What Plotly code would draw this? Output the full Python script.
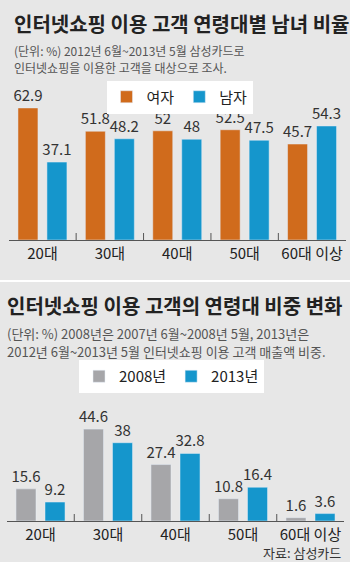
import plotly.graph_objects as go

ages = ["20대", "30대", "40대", "50대", "60대 이상"]
female = [62.9, 51.8, 52, 52.5, 45.7]
male = [37.1, 48.2, 48, 47.5, 54.3]
share_2008 = [15.6, 44.6, 27.4, 10.8, 1.6]
share_2013 = [9.2, 38, 32.8, 16.4, 3.6]

FONT = "Noto Sans CJK KR"
ORANGE = "#d06b1c"
BLUE = "#1596cc"
GRAY = "#a6a6a9"
BG = "#e7e7e7"
TXT = "#333333"

def lbl(v):
    return [f"{x:g}" for x in v]

def bar(x, y, name, color, xa, ya, lg):
    return go.Bar(x=x, y=y, name=name, marker_color=color,
                  text=lbl(y), textposition="outside", cliponaxis=False,
                  constraintext="none",
                  textfont=dict(size=15, color=TXT, family=FONT),
                  xaxis=xa, yaxis=ya, legend=lg)

fig = go.Figure()
fig.add_trace(bar(ages, female, "여자", ORANGE, "x", "y", "legend"))
fig.add_trace(bar(ages, male, "남자", BLUE, "x", "y", "legend"))
fig.add_trace(bar(ages, share_2008, "2008년", GRAY, "x2", "y2", "legend2"))
fig.add_trace(bar(ages, share_2013, "2013년", BLUE, "x2", "y2", "legend2"))

H = 562.0
W = 350.0
def py(px):
    return 1 - px / H

xcommon = dict(type="category", showgrid=False, zeroline=False, showline=True,
               linecolor="#555555", linewidth=1, ticks="",
               tickfont=dict(size=15, color="#222222", family=FONT),
               fixedrange=True)
ycommon = dict(visible=False, showgrid=False, zeroline=False, fixedrange=True)

layout = dict(
    width=350, height=562,
    margin=dict(l=0, r=0, t=0, b=0),
    paper_bgcolor=BG, plot_bgcolor=BG,
    barmode="group", bargap=0.14, bargroupgap=0.31,
    font=dict(family=FONT, color=TXT),
    xaxis=dict(domain=[8.75 / W, 345.75 / W], anchor="y", range=[-0.5, 4.5], **xcommon),
    yaxis=dict(domain=[py(240), py(93)], anchor="x", range=[0, 70], **ycommon),
    xaxis2=dict(domain=[6.75 / W, 344.25 / W], anchor="y2", range=[-0.5, 4.5], **xcommon),
    yaxis2=dict(domain=[py(521), py(418)], anchor="x2", range=[0, 50], **ycommon),
    legend=dict(orientation="h", x=179.5 / W, xanchor="center", y=py(97), yanchor="middle",
                bgcolor="white", font=dict(size=15, color="#222222", family=FONT),
                itemclick=False, itemdoubleclick=False),
    legend2=dict(orientation="h", x=171.5 / W, xanchor="center", y=py(376.5), yanchor="middle",
                 bgcolor="white", font=dict(size=15, color="#222222", family=FONT),
                 itemclick=False, itemdoubleclick=False),
)
fig.update_layout(**layout)

shapes = []
# separator line
shapes.append(dict(type="line", xref="paper", yref="paper", x0=0, x1=1, y0=py(281), y1=py(281),
                   line=dict(color="white", width=2)))
# ticks at category boundaries
for i in range(len(ages) - 1):
    shapes.append(dict(type="line", xref="x", yref="y domain", x0=i + 0.5, x1=i + 0.5,
                       y0=0, y1=7 / 147.0, line=dict(color="#555555", width=1)))
    shapes.append(dict(type="line", xref="x2", yref="y2 domain", x0=i + 0.5, x1=i + 0.5,
                       y0=0, y1=7 / 103.0, line=dict(color="#555555", width=1)))
fig.update_layout(shapes=shapes)

annotations = [
    dict(text="<b>인터넷쇼핑 이용 고객 연령대별 남녀 비율</b>", x=12 / W, y=py(24),
         xanchor="left", yanchor="middle", font=dict(size=20, color="#222222", family=FONT)),
    dict(text="(단위: %) 2012년 6월~2013년 5월 삼성카드로", x=12 / W, y=py(50),
         xanchor="left", yanchor="middle", font=dict(size=12, color="#555555", family=FONT)),
    dict(text="인터넷쇼핑을 이용한 고객을 대상으로 조사.", x=12 / W, y=py(67),
         xanchor="left", yanchor="middle", font=dict(size=12, color="#555555", family=FONT)),
    dict(text="<b>인터넷쇼핑 이용 고객의 연령대 비중 변화</b>", x=5 / W, y=py(305),
         xanchor="left", yanchor="middle", font=dict(size=20, color="#222222", family=FONT)),
    dict(text="(단위: %) 2008년은 2007년 6월~2008년 5월, 2013년은", x=5 / W, y=py(333),
         xanchor="left", yanchor="middle", font=dict(size=13, color="#555555", family=FONT)),
    dict(text="2012년 6월~2013년 5월 인터넷쇼핑 이용 고객 매출액 비중.", x=5 / W, y=py(351),
         xanchor="left", yanchor="middle", font=dict(size=13, color="#555555", family=FONT)),
    dict(text="자료: 삼성카드", x=343 / W, y=py(552),
         xanchor="right", yanchor="middle", font=dict(size=13, color="#333333", family=FONT)),
]
for a in annotations:
    a.update(xref="paper", yref="paper", showarrow=False)
fig.update_layout(annotations=annotations)

fig.write_html("out.html")
